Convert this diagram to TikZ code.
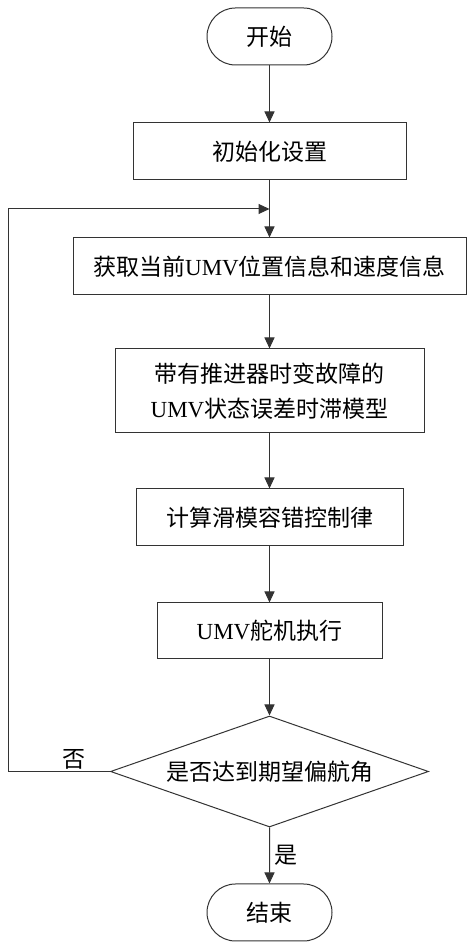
\documentclass[tikz,border=0pt]{standalone}
\usepackage{fontspec}
\setmainfont{Liberation Serif}
\newfontfamily\cjk{Noto Sans CJK SC}
\usetikzlibrary{shapes.geometric,shapes.misc,arrows.meta}
\begin{document}
\begin{tikzpicture}[x=0.5pt,y=0.5pt,
  every node/.style={font=\fontsize{11.5pt}{17.5pt}\selectfont},
  line/.style={draw=black!80,line width=0.5pt},
  box/.style={line,rectangle,minimum height=28.5pt,inner sep=0pt,align=center},
  term/.style={line,rounded rectangle,minimum width=62.5pt,minimum height=28.5pt,inner sep=0pt},
  cond/.style={line,diamond,aspect=2.86,minimum width=159pt,minimum height=55.5pt,inner sep=0pt},
  arr/.style={line,-{Triangle[length=5.5pt,width=5pt]}}]
\useasboundingbox (0,0) rectangle (474,952);
\node[term] (start) at (269.5,915.5) {\cjk 开始};
\node[box,minimum width=136.5pt] (init) at (269.5,800.5) {\cjk 初始化设置};
\node[box,minimum width=196.5pt] (info) at (269.5,685.5) {{\cjk 获取当前}UMV{\cjk 位置信息和速度信息}};
\node[box,minimum width=154.5pt,minimum height=42pt] (model) at (269.5,561) {{\cjk 带有推进器时变故障的}\\UMV{\cjk 状态误差时滞模型}};
\node[box,minimum width=133.5pt] (law) at (269.5,434.5) {\cjk 计算滑模容错控制律};
\node[box,minimum width=112.5pt,minimum height=28pt] (servo) at (269.5,321) {UMV{\cjk 舵机执行}};
\node[cond] (check) at (269.5,180.5) {\cjk 是否达到期望偏航角};
\node[term] (stop) at (269.5,39.5) {\cjk 结束};
\coordinate (merge) at (269.5,743);
\coordinate (back) at (8.5,180.5);
\draw[arr] (start) -- (init);
\draw[arr] (init) -- (info);
\draw[arr] (info) -- (model);
\draw[arr] (model) -- (law);
\draw[arr] (law) -- (servo);
\draw[arr] (servo) -- (check);
\draw[arr] (check) -- node[right,inner sep=2pt] {\cjk 是} (stop);
\draw[arr] (check.west) -- node[above,inner sep=1pt,pos=0.35] {\cjk 否} (back) |- (merge);
\end{tikzpicture}
\end{document}
